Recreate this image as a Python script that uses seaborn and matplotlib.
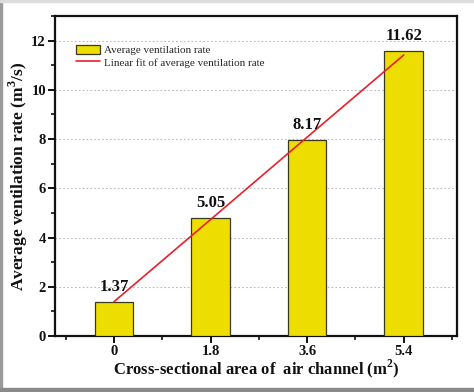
import matplotlib
matplotlib.use("Agg")
import matplotlib.pyplot as plt
from matplotlib.ticker import MultipleLocator
from matplotlib.patches import Rectangle
import seaborn as sns
import pandas as pd

# ---- data ----
categories = ["0", "1.8", "3.6", "5.4"]
bar_values = [1.37, 4.80, 7.97, 11.60]
value_labels = ["1.37", "5.05", "8.17", "11.62"]
fit_values = [1.39, 4.73, 8.08, 11.42]
y_ticks = [0, 2, 4, 6, 8, 10, 12]

df = pd.DataFrame({"area": categories, "rate": bar_values})

sns.set_theme(style="white")
plt.rcParams["font.family"] = ["Liberation Serif", "DejaVu Serif"]
plt.rcParams["mathtext.fontset"] = "custom"
plt.rcParams["mathtext.rm"] = "Liberation Serif"
plt.rcParams["mathtext.bf"] = "Liberation Serif:bold"

fig = plt.figure(figsize=(4.74, 3.92), dpi=100)
ax = fig.add_axes([0.116, 0.143, 0.848, 0.816])

sns.barplot(data=df, x="area", y="rate", ax=ax, color="#EEDD00",
            saturation=1, width=0.40, edgecolor="#3a3a1a", linewidth=0.9,
            label="Average ventilation rate", zorder=3)
sns.lineplot(x=list(range(len(categories))), y=fit_values, ax=ax,
             color="#E8202A", linewidth=1.2, zorder=4,
             label="Linear fit of average ventilation rate")

for i, (v, lab) in enumerate(zip(bar_values, value_labels)):
    ax.annotate(lab, (i, v), xytext=(0, 5), textcoords="offset points",
                ha="center", va="bottom", fontsize=12, fontweight="bold",
                color="#111111", zorder=5)

ax.set_xlim(-0.61, 3.55)
ax.set_ylim(0, 13)
ax.set_yticks(y_ticks)
ax.yaxis.set_minor_locator(MultipleLocator(1))
ax.set_xticks(range(len(categories)))
ax.set_xticks([-0.5, 0.5, 1.5, 2.5, 3.5], minor=True)
ax.set_xticklabels(categories)

ax.grid(axis="y", which="major", linestyle=(0, (1.5, 2)), color="#bbbbbb",
        linewidth=0.8, zorder=0)
ax.set_axisbelow(True)

for s in ax.spines.values():
    s.set_linewidth(1.6)
    s.set_color("#111111")

ax.tick_params(axis="both", which="major", direction="out", length=5,
               width=1.4, labelsize=10.5, colors="#111111", pad=1.5)
ax.tick_params(axis="both", which="minor", direction="out", length=3,
               width=1.2, colors="#111111")
ax.tick_params(bottom=True, left=True, which="both")
for t in ax.get_xticklabels() + ax.get_yticklabels():
    t.set_fontweight("bold")

ax.set_xlabel("Cross-sectional area of  air channel (m$^\\mathbf{2}$)",
              fontsize=12, fontweight="bold", labelpad=0, color="#111111")
ax.set_ylabel("Average ventilation rate (m$^\\mathbf{3}$/s)",
              fontsize=12.5, fontweight="bold", labelpad=1, color="#111111")

handles, labels = ax.get_legend_handles_labels()
order = [labels.index("Average ventilation rate"),
         labels.index("Linear fit of average ventilation rate")]
leg = ax.legend([handles[i] for i in order], [labels[i] for i in order],
                loc="upper left", bbox_to_anchor=(0.04, 0.925), frameon=False,
                fontsize=8, handlelength=2.2, handleheight=1.0,
                labelspacing=0.15, borderaxespad=0.0, handletextpad=0.4)

# image frame
fig.patches.append(Rectangle((0, 0), 0.005, 1, transform=fig.transFigure,
                             color="#9a9a9a", zorder=10))
fig.patches.append(Rectangle((0, 0), 1, 0.009, transform=fig.transFigure,
                             color="#8a8a8a", zorder=10))
fig.patches.append(Rectangle((0, 0.996), 1, 0.004, transform=fig.transFigure,
                             color="#dddddd", zorder=10))

fig.savefig("out.png", dpi=100)
